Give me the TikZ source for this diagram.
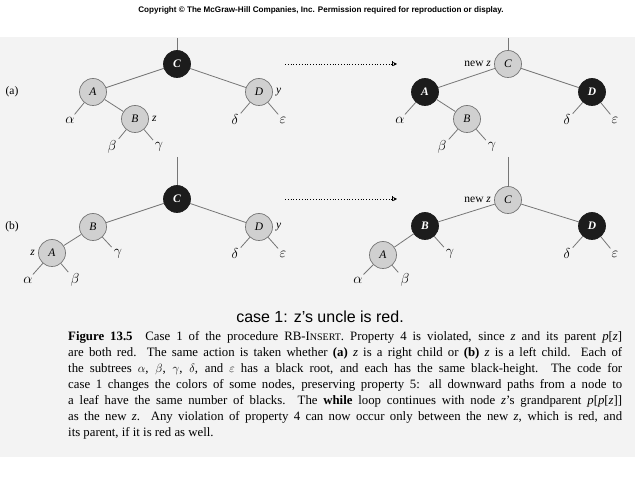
\documentclass[tikz,border=0pt]{standalone}
\usepackage{amsmath}
\usepackage{amssymb}
\usepackage{fontspec}
\setmainfont{Liberation Serif}
\newfontfamily\arialfont{Liberation Sans}
\usepackage{tikz}
\usetikzlibrary{calc, positioning, arrows.meta}

\definecolor{bggray}{HTML}{F3F3F3}
\definecolor{redfill}{HTML}{D0D0D0}
\definecolor{blackfill}{HTML}{1C1C1C}
\definecolor{edgegray}{HTML}{767676}

\begin{document}
\begin{tikzpicture}[x=1pt, y=-1pt,
    rednode/.style={circle, draw=edgegray, line width=0.7pt, fill=redfill, minimum size=27pt, inner sep=0pt, font=\fontsize{11.5}{11.5}\selectfont\itshape},
    blacknode/.style={circle, draw=blackfill, line width=0.7pt, fill=blackfill, text=white, minimum size=27pt, inner sep=0pt, font=\fontsize{11.5}{11.5}\selectfont\bfseries\itshape},
    edge/.style={draw=edgegray, line width=0.8pt},
    leaf/.style={inner sep=1.5pt, font=\fontsize{14}{14}\selectfont},
    tag/.style={inner sep=0pt, font=\fontsize{11.5}{11.5}\selectfont},
    move/.style={dotted, line width=0.8pt, -{Bar[width=5pt] Stealth[length=4pt, width=4pt]}}]

    \useasboundingbox (0,0) rectangle (638,478);
    \fill[white] (0,0) rectangle (638,478);
    \fill[bggray] (0,37) rectangle (635,457);

    \node[font=\arialfont\bfseries\fontsize{8.1}{8.1}\selectfont] (copy) at (321,10) {Copyright \textcopyright{} The McGraw-Hill Companies, Inc. Permission required for reproduction or display.};

    \node[tag] (la) at (12,92) {(a)};
    \node[tag] (lb) at (12,227) {(b)};

    % (a) before
    \coordinate (a1top) at (177,38);
    \node[blacknode] (a1C) at (177,64) {C};
    \node[rednode] (a1A) at (93,92) {A};
    \node[rednode] (a1B) at (135,119) {B};
    \node[rednode] (a1D) at (259,92) {D};
    \node[leaf] (a1al) at (70,120) {$\alpha$};
    \node[leaf] (a1be) at (112,147) {$\beta$};
    \node[leaf] (a1ga) at (159,147) {$\gamma$};
    \node[leaf] (a1de) at (235,120) {$\delta$};
    \node[leaf] (a1ep) at (283,120) {$\varepsilon$};
    \node[tag, right=3pt of a1B] (a1z) {\textit{z}};
    \node[tag, right=3pt of a1D] (a1y) {\textit{y}};

    \draw[edge] (a1top) -- (a1C);
    \draw[edge] (a1C) -- (a1A);
    \draw[edge] (a1C) -- (a1D);
    \draw[edge] (a1A) -- (a1B);
    \draw[edge, shorten >=1pt] (a1A) -- (a1al);
    \draw[edge, shorten >=1pt] (a1B) -- (a1be);
    \draw[edge, shorten >=1pt] (a1B) -- (a1ga);
    \draw[edge, shorten >=1pt] (a1D) -- (a1de);
    \draw[edge, shorten >=1pt] (a1D) -- (a1ep);

    \coordinate (a0) at (285,64);
    \coordinate (a9) at (397,64);
    \draw[move] (a0) -- (a9);

    % (a) after
    \coordinate (a2top) at (508,38);
    \node[rednode] (a2C) at (508,64) {C};
    \node[blacknode] (a2A) at (425,92) {A};
    \node[rednode] (a2B) at (467,119) {B};
    \node[blacknode] (a2D) at (592,92) {D};
    \node[leaf] (a2al) at (400,120) {$\alpha$};
    \node[leaf] (a2be) at (442,147) {$\beta$};
    \node[leaf] (a2ga) at (492,147) {$\gamma$};
    \node[leaf] (a2de) at (567,120) {$\delta$};
    \node[leaf] (a2ep) at (615,120) {$\varepsilon$};
    \node[tag, left=3pt of a2C] (a2z) {new \textit{z}};

    \draw[edge] (a2top) -- (a2C);
    \draw[edge] (a2C) -- (a2A);
    \draw[edge] (a2C) -- (a2D);
    \draw[edge] (a2A) -- (a2B);
    \draw[edge, shorten >=1pt] (a2A) -- (a2al);
    \draw[edge, shorten >=1pt] (a2B) -- (a2be);
    \draw[edge, shorten >=1pt] (a2B) -- (a2ga);
    \draw[edge, shorten >=1pt] (a2D) -- (a2de);
    \draw[edge, shorten >=1pt] (a2D) -- (a2ep);

    % (b) before
    \coordinate (b1top) at (177,157);
    \node[blacknode] (b1C) at (177,199) {C};
    \node[rednode] (b1B) at (93,227) {B};
    \node[rednode] (b1A) at (52,253) {A};
    \node[rednode] (b1D) at (259,227) {D};
    \node[leaf] (b1al) at (28,280) {$\alpha$};
    \node[leaf] (b1be) at (75,280) {$\beta$};
    \node[leaf] (b1ga) at (118,254) {$\gamma$};
    \node[leaf] (b1de) at (235,254) {$\delta$};
    \node[leaf] (b1ep) at (283,254) {$\varepsilon$};
    \node[tag, left=3pt of b1A] (b1z) {\textit{z}};
    \node[tag, right=3pt of b1D] (b1y) {\textit{y}};

    \draw[edge] (b1top) -- (b1C);
    \draw[edge] (b1C) -- (b1B);
    \draw[edge] (b1C) -- (b1D);
    \draw[edge] (b1B) -- (b1A);
    \draw[edge, shorten >=1pt] (b1B) -- (b1ga);
    \draw[edge, shorten >=1pt] (b1A) -- (b1al);
    \draw[edge, shorten >=1pt] (b1A) -- (b1be);
    \draw[edge, shorten >=1pt] (b1D) -- (b1de);
    \draw[edge, shorten >=1pt] (b1D) -- (b1ep);

    \coordinate (b0) at (285,199);
    \coordinate (b9) at (397,199);
    \draw[move] (b0) -- (b9);

    % (b) after
    \coordinate (b2top) at (508,157);
    \node[rednode] (b2C) at (508,200) {C};
    \node[blacknode] (b2B) at (425,226) {B};
    \node[rednode] (b2A) at (383,255) {A};
    \node[blacknode] (b2D) at (592,226) {D};
    \node[leaf] (b2al) at (358,280) {$\alpha$};
    \node[leaf] (b2be) at (405,280) {$\beta$};
    \node[leaf] (b2ga) at (450,254) {$\gamma$};
    \node[leaf] (b2de) at (567,254) {$\delta$};
    \node[leaf] (b2ep) at (615,254) {$\varepsilon$};
    \node[tag, left=3pt of b2C] (b2z) {new \textit{z}};

    \draw[edge] (b2top) -- (b2C);
    \draw[edge] (b2C) -- (b2B);
    \draw[edge] (b2C) -- (b2D);
    \draw[edge] (b2B) -- (b2A);
    \draw[edge, shorten >=1pt] (b2B) -- (b2ga);
    \draw[edge, shorten >=1pt] (b2A) -- (b2al);
    \draw[edge, shorten >=1pt] (b2A) -- (b2be);
    \draw[edge, shorten >=1pt] (b2D) -- (b2de);
    \draw[edge, shorten >=1pt] (b2D) -- (b2ep);

    \node[font=\arialfont\fontsize{16}{16}\selectfont] (case) at (320,317) {case 1: z’s uncle is red.};

    \node[anchor=north west, inner sep=0pt, text width=554pt, align=justify,
          font=\fontsize{12.8}{16}\selectfont] (cap) at (68,331)
    {\textbf{Figure 13.5}\quad Case 1 of the procedure RB-I{\fontsize{10}{10}\selectfont NSERT}. Property 4 is violated, since \textit{z} and its parent \textit{p}[\textit{z}]\linebreak
    are both red. The same action is taken whether \textbf{(a)} \textit{z} is a right child or \textbf{(b)} \textit{z} is a left child. Each of\linebreak
    the subtrees $\alpha$, $\beta$, $\gamma$, $\delta$, and $\varepsilon$ has a black root, and each has the same black-height. The code for\linebreak
    case 1 changes the colors of some nodes, preserving property 5: all downward paths from a node to\linebreak
    a leaf have the same number of blacks. The \textbf{while} loop continues with node \textit{z}’s grandparent \textit{p}[\textit{p}[\textit{z}]]\linebreak
    as the new \textit{z}. Any violation of property 4 can now occur only between the new \textit{z}, which is red, and\linebreak
    its parent, if it is red as well.};
\end{tikzpicture}
\end{document}
